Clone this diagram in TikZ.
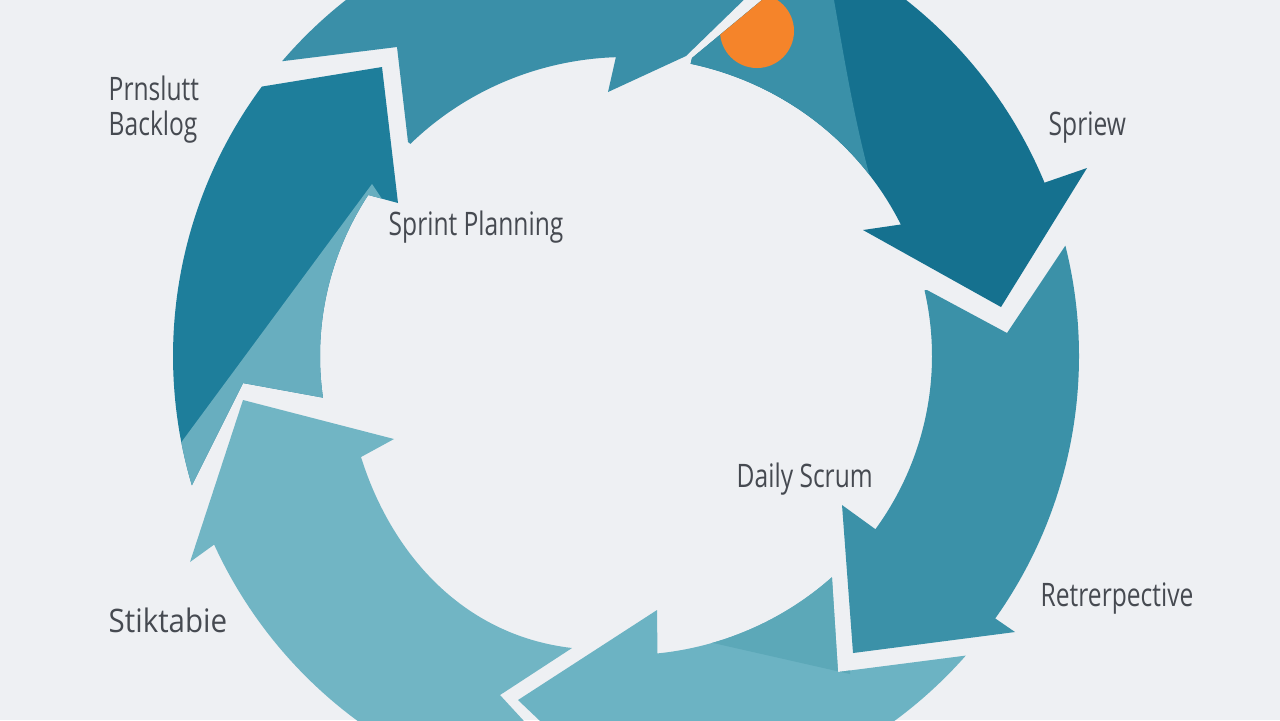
\documentclass[tikz,border=0pt]{standalone}
\usepackage{fontspec}
\newfontfamily\lblfont[FakeStretch=0.76]{Open Sans}
\usetikzlibrary{calc}
\definecolor{bg}{HTML}{EEF0F3}
\definecolor{darkA}{HTML}{1E7E9B}
\definecolor{darkB}{HTML}{15718F}
\definecolor{midA}{HTML}{3A8FA8}
\definecolor{midB}{HTML}{3B91A8}
\definecolor{wedgeC}{HTML}{3A90A8}
\definecolor{lightA}{HTML}{6CB3C3}
\definecolor{lightB}{HTML}{71B5C4}
\definecolor{foldL}{HTML}{68AEBF}
\definecolor{foldB}{HTML}{5CA8B8}
\definecolor{orangeC}{HTML}{F5842A}
\definecolor{txt}{HTML}{464A51}
\tikzset{
  lbl/.style={anchor=base west, inner sep=0pt, text=txt, font=\lblfont\fontsize{9.2}{11}\selectfont}
}
\begin{document}
\begin{tikzpicture}[x=0.01cm, y=-0.01cm]
\useasboundingbox (0,0) rectangle (1280,720);
\fill[bg] (0,0) rectangle (1280,720);
\clip (0,0) rectangle (1280,720);
\coordinate (Cc) at (626,356);

% top arrow
\fill[midA] ($(Cc)+(250:453)$) arc[start angle=250, end angle=220.6, radius=453]
  -- (397,47) -- (408,142)
  -- ($(Cc)+(225.2:306 and 299)$) arc[start angle=225.2, end angle=268.1, x radius=306, y radius=299]
  -- (608,92) -- (686,56) -- (790,-45) -- (790,-140) -- (473,-140) -- cycle;

% left arrow with light fold
\begin{scope}
\clip ($(Cc)+(163.4:453)$) arc[start angle=163.4, end angle=216.5, radius=453]
  -- (382,67) -- (398,203)
  -- ($(Cc)+(212.6:306 and 299)$) arc[start angle=212.6, end angle=172, x radius=306, y radius=299]
  -- (243,383) -- cycle;
\fill[darkA] (0,0) rectangle (1280,720);
\fill[foldL] (372,184) -- (166,463) -- (250,560) -- (450,300) -- cycle;
\end{scope}

% upper-right dark arrow with wedge and orange dot
\begin{scope}
\clip (692,58) -- ($(Cc)+(282.2:306 and 299)$) arc[start angle=282.2, end angle=333.9, x radius=306, y radius=299]
  -- (863,230) -- (1001,307) -- (1087,168)
  -- ($(Cc)+(337.5:453)$) arc[start angle=337.5, end angle=300, radius=453]
  -- (810,-40) -- (762,0) -- cycle;
\fill[darkB] (0,-100) rectangle (1280,720);
\fill[wedgeC] (826,-60) -- (834,0) .. controls (846,70) and (855,120) .. (868,170) -- (880,210) -- (600,210) -- (600,-60) -- cycle;
\fill[orangeC] (757,31) circle[radius=37];
\end{scope}

% right arrow
\fill[midB] (927,290) -- (1007,333)
  -- ($(Cc)+(345.9:453)$) arc[start angle=345.9, end angle=395.4, radius=453]
  -- (1015,632) -- (853,653) -- (842,505)
  -- ($(Cc)+(35.4:306 and 299)$) arc[start angle=35.4, end angle=-12.7, x radius=306, y radius=299]
  -- cycle;

% bottom arrow with darker fold
\begin{scope}
\clip ($(Cc)+(47.7:306 and 299)$) -- (838,672)
  -- ($(Cc)+(41.4:453)$) arc[start angle=41.4, end angle=95, radius=453]
  -- (560,740) -- (518,700) -- (657,610)
  -- ($(Cc)+(84.1:306 and 299)$) arc[start angle=84.1, end angle=47.7, x radius=306, y radius=299]
  -- cycle;
\fill[lightA] (0,0) rectangle (1280,820);
\fill[foldB] (700,640) -- (850,674) -- (850,540) -- (700,540) -- cycle;
\end{scope}

% bottom-left arrow
\fill[lightB] (243,400) -- (394,439) -- (361,457)
  .. controls (390,550) and (460,635) .. (572,648)
  -- (500,695) -- (523,720) -- (547,745)
  -- ($(Cc)+(100:453)$) arc[start angle=100, end angle=155.4, radius=453]
  -- (190,562) -- cycle;

% labels
\node[lbl] (pb1) at (108,100) {Prnslutt};
\node[lbl] (pb2) at (108,135) {Backlog};
\node[lbl] (sp) at (388,235) {Sprint Planning};
\node[lbl] (sr) at (1048,135) {Spriew};
\node[lbl] (ds) at (736,487) {Daily Scrum};
\node[lbl] (rt) at (1040,606) {Retrerpective};
\node[lbl] (st) at (108,632) {\scalebox{1.2}[1]{Stiktabie}};
\end{tikzpicture}
\end{document}
